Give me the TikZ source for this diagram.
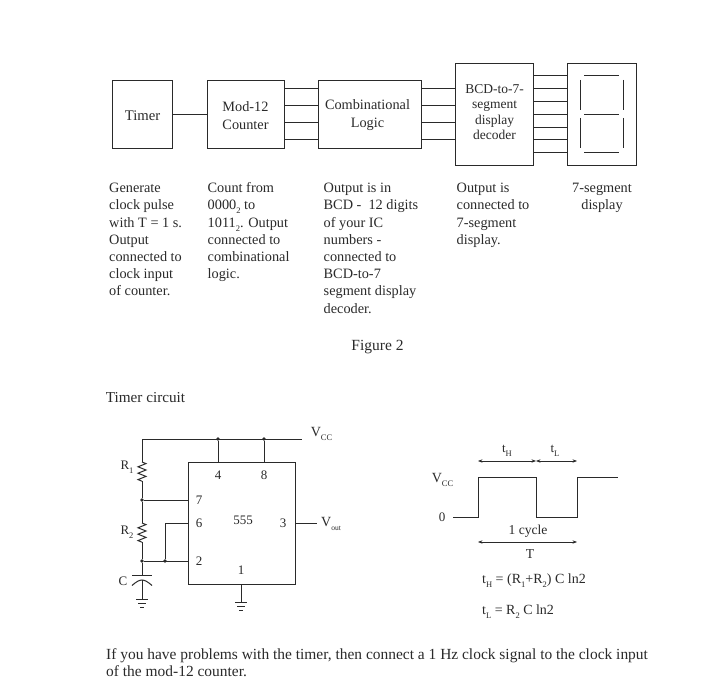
\documentclass[tikz,border=0pt]{standalone}
\usepackage{fontspec}
\setmainfont{Liberation Serif}
\usetikzlibrary{arrows.meta}
\definecolor{ink}{HTML}{2A2A2A}
\newcommand{\sbs}[1]{\raisebox{-0.28em}{\fontsize{8.5}{9}\selectfont #1}}
\newcommand{\tinysbs}[1]{\raisebox{-0.3em}{\fontsize{7.5}{8}\selectfont #1}}
\newcommand{\firstline}{\rule{0pt}{11pt}}
\tikzset{
  wire/.style={draw=ink,line width=1pt},
  blockbox/.style={draw=ink,line width=1pt,inner sep=0pt},
  blocklab/.style={inner sep=0pt,align=center,text=ink,font=\fontsize{14.3}{17.5}\selectfont},
  para/.style={anchor=north west,inner sep=0pt,align=left,text=ink,font=\fontsize{14.3}{17.2}\selectfont},
  lab/.style={inner sep=0pt,text=ink,font=\fontsize{13}{15}\selectfont},
  dot/.style={circle,fill=ink,inner sep=0pt,minimum size=3.6pt},
  span/.style={draw=ink,line width=0.7pt,{Stealth[length=4.5pt,width=3.4pt]}-{Stealth[length=4.5pt,width=3.4pt]}},
}
\newcommand{\zigzag}[1]{\draw[wire] (#1) -- ++(4,1.6) -- ++(-8,3.2) -- ++(8,3.2) -- ++(-8,3.2) -- ++(8,3.2) -- ++(-8,3.2) -- ++(4,1.6);}
\newcommand{\earth}[1]{\draw[wire] ([xshift=-6pt]#1) -- ([xshift=6pt]#1) ([shift={(-4pt,-4pt)}]#1) -- ([shift={(4pt,-4pt)}]#1) ([shift={(-2pt,-8pt)}]#1) -- ([shift={(2pt,-8pt)}]#1);}
\begin{document}
\begin{tikzpicture}[x=1pt,y=-1pt]
\path[use as bounding box,fill=white] (0,0) rectangle (720,695);
% block diagram
\node[blockbox,minimum width=60pt,minimum height=68pt,label={[blocklab,font=\fontsize{14.7}{17.5}\selectfont,yshift=-1pt]center:Timer}] (timer) at (142.5,114.5) {};
\node[blockbox,minimum width=77pt,minimum height=68pt,label={[blocklab,yshift=-1.3pt]center:Mod-12\\Counter}] (mod) at (245.5,114.5) {};
\node[blockbox,minimum width=103pt,minimum height=68pt,label={[blocklab,yshift=-0.5pt,xshift=-2pt]center:Combinational\\Logic}] (comb) at (369.5,114.5) {};
\node[blockbox,minimum width=78pt,minimum height=102pt,label={[blocklab,font=\fontsize{13.5}{15.5}\selectfont,yshift=2.5pt]center:BCD-to-7-\\segment\\display\\decoder}] (bcd) at (494.5,114.5) {};
\node[blockbox,minimum width=69pt,minimum height=102pt] (disp) at (601.5,114.5) {};
\draw[wire] (timer) -- (mod);
\foreach \y in {88.5,105.5,122.5,139.5}{
  \draw[wire] (mod.east |- 0,\y) -- (comb.west |- 0,\y);
  \draw[wire] (comb.east |- 0,\y) -- (bcd.west |- 0,\y);
}
\foreach \y in {75.5,88.5,101.5,114.5,127.5,139.5,152.5}{
  \draw[wire] (bcd.east |- 0,\y) -- (disp.west |- 0,\y);
}
\draw[wire] (584,75.5) -- (619,75.5) (584,114.5) -- (619,114.5) (584,152.5) -- (619,152.5)
  (580.5,80) -- (580.5,110) (580.5,118) -- (580.5,148) (623.5,80) -- (623.5,110) (623.5,118) -- (623.5,148);
% descriptions
\node[para] (d1) at (109,181.5) {\firstline Generate\\clock pulse\\with T = 1 s.\\Output\\connected to\\clock input\\of counter.};
\node[para] (d2) at (207.5,181.5) {\firstline Count from\\0000\sbs{2} to\\1011\sbs{2}. Output\\connected to\\combinational\\logic.};
\node[para] (d3) at (323.5,181.5) {\firstline Output is in\\BCD -\ \ 12 digits\\of your IC\\numbers -\\connected to\\BCD-to-7\\segment display\\decoder.};
\node[para] (d4) at (456.5,181.5) {\firstline Output is\\connected to\\7-segment\\display.};
\node[para,anchor=north,align=center] (d5) at (602,181.5) {\firstline 7-segment\\display};
\node[para,anchor=center,font=\fontsize{15.5}{17}\selectfont] (fig) at (377.5,347) {Figure 2};
\node[para,anchor=center,font=\fontsize{15.2}{17}\selectfont] (tc) at (145.5,398) {Timer circuit};
% 555 circuit
\node[blockbox,minimum width=107pt,minimum height=122pt] (ic) at (241.5,523) {};
\node[lab] (n555) at (243,520) {555};
\node[lab] (p4) at (218,475) {4};
\node[lab] (p8) at (264,475) {8};
\node[lab] (p7) at (199,500) {7};
\node[lab] (p6) at (199,523) {6};
\node[lab] (p2) at (199,561) {2};
\node[lab] (p3) at (283,523) {3};
\node[lab] (p1) at (241,570) {1};
\coordinate (vtop) at (142,439);
\coordinate (vend) at (302,439);
\node[dot] (j4) at (218,439) {};
\node[dot] (j8) at (264,439) {};
\coordinate (r1a) at (142,462);
\coordinate (r1b) at (142,481);
\node[dot] (j7) at (142,500) {};
\coordinate (r2a) at (142,523);
\coordinate (r2b) at (142,542);
\node[dot] (j2) at (142,561) {};
\node[dot] (j6) at (165,561) {};
\coordinate (c1) at (142,575);
\coordinate (c2) at (142,580);
\coordinate (gc) at (142,599);
\coordinate (g1) at (241,602);
\coordinate (o3) at (317,523);
\draw[wire] (r1a) -- (vtop) -- (vend);
\draw[wire] (j4) -- (j4 |- ic.north);
\draw[wire] (j8) -- (j8 |- ic.north);
\zigzag{r1a}
\zigzag{r2a}
\draw[wire] (r1b) -- (j7) -- (r2a);
\draw[wire] (j7) -- (j7 -| ic.west);
\draw[wire] (r2b) -- (j2) -- (c1);
\draw[wire] (j2) -- (j2 -| ic.west);
\draw[wire] (j6) -- (165,523) -- (ic.west);
\draw[wire] ([xshift=-10pt]c1) -- ([xshift=10pt]c1);
\draw[wire] (132,585.5) .. controls (136,582) and (139,580) .. (c2) .. controls (145,580) and (148,582) .. (152,585.5);
\draw[wire] (c2) -- (gc);
\earth{gc}
\draw[wire] (ic.south -| g1) -- (g1);
\earth{g1}
\draw[wire] (ic.east) -- (o3);
\node[lab,font=\fontsize{14}{15}\selectfont] (vcc1) at (321.5,434) {V\sbs{CC}};
\node[lab,font=\fontsize{14}{15}\selectfont] (vout) at (331,524) {V\tinysbs{out}};
\node[lab] (rr1) at (127,467) {R\sbs{1}};
\node[lab] (rr2) at (127,532) {R\sbs{2}};
\node[lab] (cc) at (123,581) {C};
% waveform
\coordinate (w0) at (453,517);
\coordinate (w1) at (478,477);
\coordinate (w2) at (536,477);
\coordinate (w3) at (577,517);
\coordinate (w4) at (618,477);
\draw[wire] (w0) -| (w1) -| (w2 |- w3) -| (w3 |- w4) -- (w4);
\coordinate (a1) at (478,461);
\coordinate (a2) at (536,461);
\coordinate (a3) at (577,461);
\coordinate (b1) at (478,542);
\coordinate (b2) at (577,542);
\draw[span] (a1) -- (a2);
\draw[span] (a2) -- (a3);
\draw[span] (b1) -- (b2);
\node[lab,font=\fontsize{14}{15}\selectfont] (vcc2) at (442.5,480) {V\sbs{CC}};
\node[lab] (zero) at (442,517) {0};
\node[lab] (th) at (507,451) {t\sbs{H}};
\node[lab] (tl) at (555,451) {t\sbs{L}};
\node[lab,font=\fontsize{13.6}{15}\selectfont] (cyc) at (528,531) {1 cycle};
\node[lab,font=\fontsize{13.6}{15}\selectfont] (tt) at (530,554) {T};
\node[lab,anchor=west,font=\fontsize{14}{15}\selectfont] (f1) at (482,581) {t\sbs{H} = (R\sbs{1}+R\sbs{2}) C ln2};
\node[lab,anchor=west,font=\fontsize{14}{15}\selectfont] (f2) at (482,612) {t\sbs{L} = R\sbs{2} C ln2};
% note
\node[para,font=\fontsize{15.45}{17.2}\selectfont] (note) at (106,648.5) {\firstline If you have problems with the timer, then connect a 1 Hz clock signal to the clock input\\of the mod-12 counter.};
\end{tikzpicture}
\end{document}
